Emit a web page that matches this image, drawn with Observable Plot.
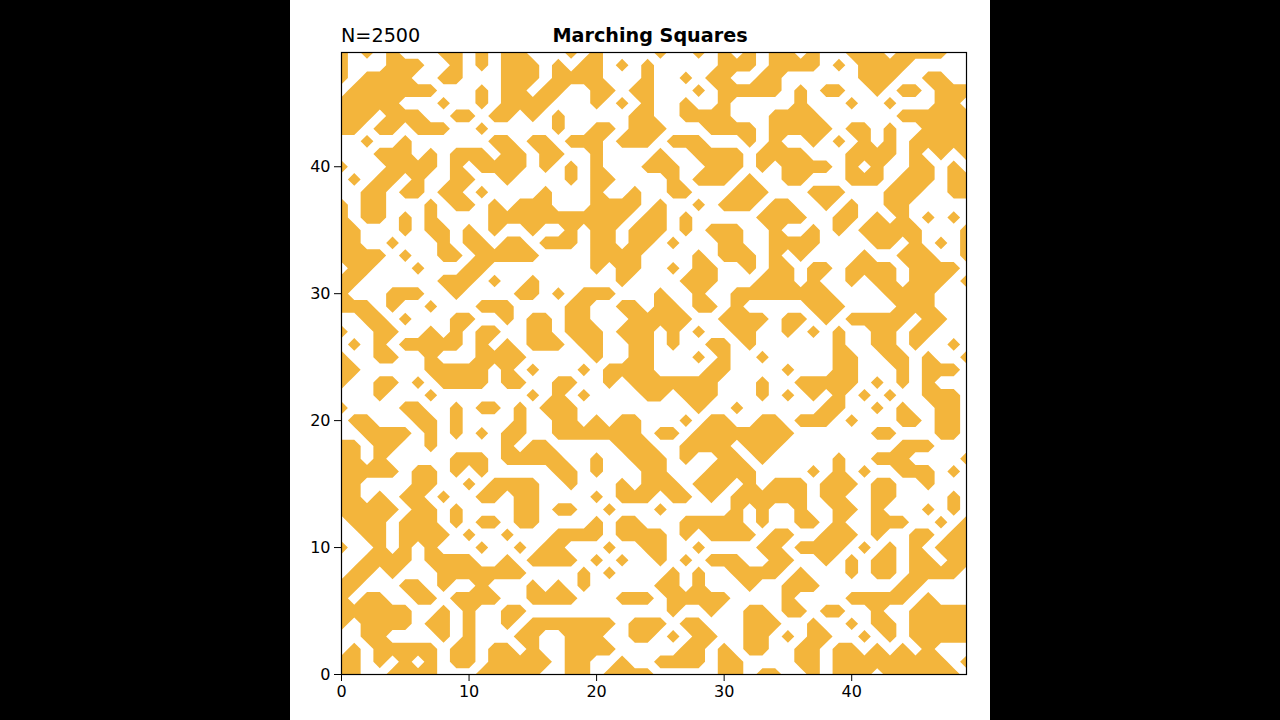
<!DOCTYPE html>
<html>
<head>
<meta charset="utf-8">
<script src="https://cdn.jsdelivr.net/npm/d3@7"></script>
<script src="https://cdn.jsdelivr.net/npm/@observablehq/plot@0.6"></script>
<style>
html,body{margin:0;padding:0;background:#000;width:1280px;height:720px;overflow:hidden}
#panel{position:absolute;left:290px;top:0;width:700px;height:720px;background:#fff;font-family:"DejaVu Sans",sans-serif;color:#000}
#panel svg{display:block;position:absolute;left:0;top:0;background:transparent}
.t{position:absolute;white-space:nowrap;line-height:1}
</style>
</head>
<body>
<div id="panel">
<div class="t" style="left:51px;top:26px;font-size:19.2px">N=2500</div>
<div class="t" style="left:260px;width:200px;text-align:center;top:26px;font-size:19.2px;font-weight:bold">Marching Squares</div>
</div>
<script>
const rowsLeft = ["1010100011010110","1000111001010111","1011110011000111","0111111100010110","1111100010010111","1110111001101101","1101101110010000","0010010000001101","0001110101110110","1000111101011110","0101101001100100","0011011011010000","1011000101101011","1011010100001111","1100010110101001","1100100010110110","1111010011011111","0110001000110000","1100000011101001","1000111001000011","1110100100011100","0011010001100101","1001100101011001","0101011111010101","1001100100011110","1100000111110101","1001101011110110","0001000100000001","1000011001011010","0110001101000010","0011110101010110","1101100100000101","1101000001110111","1111101101010000","1100001100101111","1101011010011011","1111101101000011","0111011101011011","0011011110100100","1001010100010010","0011110111100101","0110100011111110","1100011010010001","1011001101111001","1111110010100110","1011110110100101","0011000010100011","0101111101101101","1101010101101111","1100111100011111"];
const rowsMiddle = ["00101000010010101","01011010100000111","01111000100101100","11001101100010111","10001010100100100","01000001100111100","01001101110001111","10111011101110001","11001000010011110","10101000111001110","00101100001011101","10001001001100011","10001111010010111","11111110110100000","00101101110101110","11101101101000110","00001111000010111","00001011001011001","00000010000111000","01011100010010011","00110011011011010","10110001111100111","10111011101010011","11011001101001101","00001001100010100","00010111100001100","01100101111111000","01010000110111000","11100000000010010","01101011000101100","01111111011011111","10000011100111101","11001001110100110","01101000110001111","00100010111011101","00001011101101011","01100100010000010","00001011000111110","01111011110101111","11000100110010000","11101010010101110","00010100001010011","01010000011010001","11100011101111100","00000000001001001","11111101110110001","00111001101011001","00111100000110101","10110010011110110","00110111100000110"];
const rowsRight = ["01101001110111100","01111010111100000","11000000111001100","11010110010110111","00010001001000110","01111000000111111","01111101101001111","01001010101011111","11110001111010101","10111101010011010","00110001110111011","10001110001110011","01100101001100000","11110011010101010","01001010111110001","01111000011010101","01010000100111001","01101101111011110","11101001011011101","11111100001111000","00001110000111000","10110101111101100","00101010011011000","00000010011010010","10000011001101001","00100011000101110","10011111010101000","10101010101001110","00000110010100110","11011101000110110","11100000011000110","11000000000111000","10000010011100001","00001010100111010","01110111011001000","11110110011000010","10010011010001010","10011010011100101","01100111010011011","11011110101010111","01100101011011011","11010001011011110","00111000000110000","00100001111101000","10110110010011111","11001001011011111","10101100101011111","10011011010101000","00011011111111101","11001011101111110"];
const tickValues = [0, 10, 20, 30, 40];
const rows = rowsLeft.map((r, k) => r + rowsMiddle[k] + rowsRight[k]).reverse();
const field = rows.flatMap(r => Array.from(r, Number));
const chart = Plot.plot({
  width: 700, height: 720,
  marginLeft: 51, marginRight: 24, marginTop: 52, marginBottom: 46,
  style: {fontFamily: '"DejaVu Sans",sans-serif', fontSize: "16px", color: "#000", background: "transparent"},
  x: {domain: [0, 49], label: null, ticks: tickValues, tickSize: 7, tickPadding: 4},
  y: {domain: [0, 49], label: null, ticks: tickValues, tickSize: 7, tickPadding: 4},
  marks: [
    Plot.contour(field, {width: 50, height: 50, x1: -0.5, y1: -0.5, x2: 49.5, y2: 49.5, thresholds: [0.5], fill: "#f3b53c", stroke: "none", clip: true}),
    Plot.frame({stroke: "#000", strokeWidth: 1.2})
  ]
});
document.getElementById("panel").appendChild(chart);
</script>
</body>
</html>
